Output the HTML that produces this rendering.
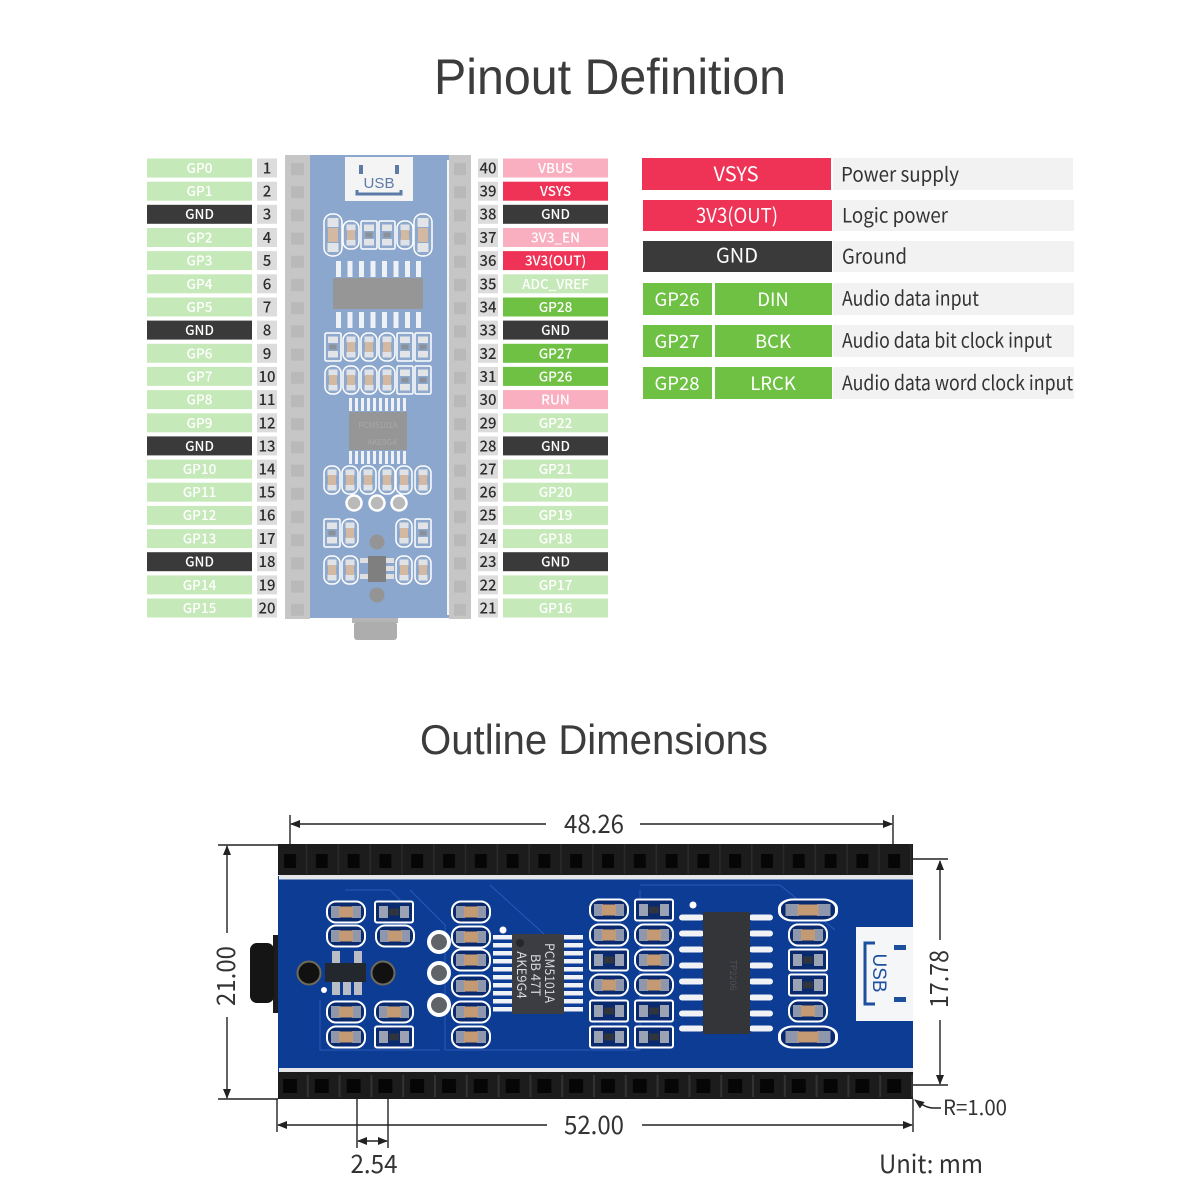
<!DOCTYPE html>
<html><head><meta charset="utf-8"><title>Pinout Definition</title>
<style>
html,body{margin:0;padding:0;background:#fff}
svg{display:block}
text{font-family:"Noto Sans CJK SC","Liberation Sans",sans-serif}
.t{font-family:"Liberation Sans",sans-serif;fill:#3c3c3c;font-size:50px}
.l{font-size:13.500px;text-anchor:middle;fill:#fff;font-weight:500}
.n{font-size:15px;text-anchor:middle;fill:#2c2c2c;font-weight:500}
.lg{fill:#c6e9b9}.bk{fill:#3a3a3a}.pk{fill:#f9afbf}.rd{fill:#ef3356}.gr{fill:#6fc143}.nb{fill:#dcdcdc}
.k{font-size:20px;text-anchor:middle;fill:#fff}
.g{font-size:18.500px;text-anchor:middle;fill:#fff}
.d{font-size:20px;fill:#333}
.m{font-family:"Noto Sans CJK SC",sans-serif;font-size:25px;fill:#333;text-anchor:middle}
.w{stroke:#222;stroke-width:1.4;fill:none}
</style></head>
<body>
<svg width="1200" height="1200" viewBox="0 0 1200 1200" xmlns="http://www.w3.org/2000/svg">
<defs>
<g id="cap">
<rect x="-19" y="-10.500" width="38" height="21" rx="9" fill="#0a2a70" stroke="#fff" stroke-width="2"/>
<rect x="-15" y="-6" width="9" height="12" fill="#8e97ac"/><rect x="6" y="-6" width="9" height="12" fill="#8e97ac"/>
<rect x="-7" y="-5.500" width="14" height="11" fill="#c39a74"/>
</g>
<g id="res">
<rect x="-19" y="-10.500" width="38" height="21" rx="2" fill="#0a2a70" stroke="#fff" stroke-width="2"/>
<rect x="-15" y="-6" width="9" height="12" fill="#9aa2b4"/><rect x="6" y="-6" width="9" height="12" fill="#9aa2b4"/>
<rect x="-5" y="-3.500" width="10" height="7" fill="#30343c"/>
</g>
<g id="vc">
<rect x="-8" y="-14" width="16" height="28" rx="7" fill="#8fa9cd" stroke="#fff" stroke-width="1.500"/>
<rect x="-4.500" y="-10.500" width="9" height="6" fill="#dfe2e7"/><rect x="-4.500" y="4.500" width="9" height="6" fill="#dfe2e7"/>
<rect x="-4" y="-5" width="8" height="10" fill="#d3b8a2"/>
</g>
<g id="vr">
<rect x="-8" y="-14" width="16" height="28" rx="1.500" fill="#8fa9cd" stroke="#fff" stroke-width="1.500"/>
<rect x="-5" y="-10.500" width="10" height="6.500" fill="#e2e4e8"/><rect x="-5" y="4" width="10" height="6.500" fill="#e2e4e8"/>
<rect x="-3.500" y="-2.500" width="7" height="5" fill="#8a8f98"/>
</g>
<g id="vl">
<rect x="-9" y="-21" width="18" height="42" rx="8" fill="#8fa9cd" stroke="#fff" stroke-width="1.500"/>
<rect x="-5.500" y="-17" width="11" height="9" fill="#e2e4e8"/><rect x="-5.500" y="8" width="11" height="9" fill="#e2e4e8"/>
<rect x="-5" y="-7" width="10" height="14" fill="#d3b8a2"/>
</g>
<pattern id="hv" x="285" y="157" width="25" height="23.200" patternUnits="userSpaceOnUse"><rect x="6" y="6" width="13" height="12" fill="#b9b9b9"/></pattern>
<pattern id="hv2" x="449" y="157" width="22" height="23.200" patternUnits="userSpaceOnUse"><rect x="5" y="6" width="12" height="12" fill="#b9b9b9"/></pattern>
<pattern id="hh" x="274" y="844" width="31.800" height="30" patternUnits="userSpaceOnUse"><rect x="10" y="10" width="12" height="14" fill="#060606"/><rect x="0" y="0" width="1.500" height="30" fill="#2b2b2b"/></pattern>
<pattern id="hb" x="274" y="1073" width="31.800" height="26" patternUnits="userSpaceOnUse"><rect x="9" y="6" width="14" height="14" fill="#060606"/><rect x="1" y="2" width="2" height="22" fill="#333"/></pattern>
<marker id="a" markerWidth="10" markerHeight="8" refX="9" refY="4" orient="auto-start-reverse" markerUnits="userSpaceOnUse"><path d="M0 0L10 4L0 8Z" fill="#222"/></marker>
</defs>

<text class="t" x="434" y="94" textLength="352" lengthAdjust="spacingAndGlyphs">Pinout Definition</text>
<text class="t" x="420" y="754" style="font-size:42px" textLength="348" lengthAdjust="spacingAndGlyphs">Outline Dimensions</text>

<!-- left labels -->
<rect class="lg" x="147" y="158.500" width="105" height="19"/><text class="l" x="199.500" y="173">GP0</text>
<rect class="lg" x="147" y="181.700" width="105" height="19"/><text class="l" x="199.500" y="196">GP1</text>
<rect class="bk" x="147" y="204.800" width="105" height="19"/><text class="l" x="199.500" y="219">GND</text>
<rect class="lg" x="147" y="228" width="105" height="19"/><text class="l" x="199.500" y="242.500">GP2</text>
<rect class="lg" x="147" y="251.100" width="105" height="19"/><text class="l" x="199.500" y="265.500">GP3</text>
<rect class="lg" x="147" y="274.300" width="105" height="19"/><text class="l" x="199.500" y="288.800">GP4</text>
<rect class="lg" x="147" y="297.500" width="105" height="19"/><text class="l" x="199.500" y="312">GP5</text>
<rect class="bk" x="147" y="320.600" width="105" height="19"/><text class="l" x="199.500" y="335">GND</text>
<rect class="lg" x="147" y="343.800" width="105" height="19"/><text class="l" x="199.500" y="358.300">GP6</text>
<rect class="lg" x="147" y="366.900" width="105" height="19"/><text class="l" x="199.500" y="381.400">GP7</text>
<rect class="lg" x="147" y="390.100" width="105" height="19"/><text class="l" x="199.500" y="404.600">GP8</text>
<rect class="lg" x="147" y="413.300" width="105" height="19"/><text class="l" x="199.500" y="427.800">GP9</text>
<rect class="bk" x="147" y="436.400" width="105" height="19"/><text class="l" x="199.500" y="451">GND</text>
<rect class="lg" x="147" y="459.600" width="105" height="19"/><text class="l" x="199.500" y="474">GP10</text>
<rect class="lg" x="147" y="482.700" width="105" height="19"/><text class="l" x="199.500" y="497">GP11</text>
<rect class="lg" x="147" y="505.900" width="105" height="19"/><text class="l" x="199.500" y="520">GP12</text>
<rect class="lg" x="147" y="529.100" width="105" height="19"/><text class="l" x="199.500" y="543.500">GP13</text>
<rect class="bk" x="147" y="552.200" width="105" height="19"/><text class="l" x="199.500" y="566.700">GND</text>
<rect class="lg" x="147" y="575.400" width="105" height="19"/><text class="l" x="199.500" y="590">GP14</text>
<rect class="lg" x="147" y="598.500" width="105" height="19"/><text class="l" x="199.500" y="613">GP15</text>

<!-- left numbers -->
<rect class="nb" x="257" y="158.500" width="20" height="19"/><text class="n" x="267" y="173.500">1</text>
<rect class="nb" x="257" y="181.700" width="20" height="19"/><text class="n" x="267" y="196.500">2</text>
<rect class="nb" x="257" y="204.800" width="20" height="19"/><text class="n" x="267" y="219.500">3</text>
<rect class="nb" x="257" y="228" width="20" height="19"/><text class="n" x="267" y="243">4</text>
<rect class="nb" x="257" y="251.100" width="20" height="19"/><text class="n" x="267" y="266">5</text>
<rect class="nb" x="257" y="274.300" width="20" height="19"/><text class="n" x="267" y="289.300">6</text>
<rect class="nb" x="257" y="297.500" width="20" height="19"/><text class="n" x="267" y="312.500">7</text>
<rect class="nb" x="257" y="320.600" width="20" height="19"/><text class="n" x="267" y="335.500">8</text>
<rect class="nb" x="257" y="343.800" width="20" height="19"/><text class="n" x="267" y="358.800">9</text>
<rect class="nb" x="257" y="366.900" width="20" height="19"/><text class="n" x="267" y="381.900" textLength="17" lengthAdjust="spacingAndGlyphs">10</text>
<rect class="nb" x="257" y="390.100" width="20" height="19"/><text class="n" x="267" y="405.100" textLength="17" lengthAdjust="spacingAndGlyphs">11</text>
<rect class="nb" x="257" y="413.300" width="20" height="19"/><text class="n" x="267" y="428.300" textLength="17" lengthAdjust="spacingAndGlyphs">12</text>
<rect class="nb" x="257" y="436.400" width="20" height="19"/><text class="n" x="267" y="451.500" textLength="17" lengthAdjust="spacingAndGlyphs">13</text>
<rect class="nb" x="257" y="459.600" width="20" height="19"/><text class="n" x="267" y="474.500" textLength="17" lengthAdjust="spacingAndGlyphs">14</text>
<rect class="nb" x="257" y="482.700" width="20" height="19"/><text class="n" x="267" y="497.500" textLength="17" lengthAdjust="spacingAndGlyphs">15</text>
<rect class="nb" x="257" y="505.900" width="20" height="19"/><text class="n" x="267" y="520.500" textLength="17" lengthAdjust="spacingAndGlyphs">16</text>
<rect class="nb" x="257" y="529.100" width="20" height="19"/><text class="n" x="267" y="544" textLength="17" lengthAdjust="spacingAndGlyphs">17</text>
<rect class="nb" x="257" y="552.200" width="20" height="19"/><text class="n" x="267" y="567.200" textLength="17" lengthAdjust="spacingAndGlyphs">18</text>
<rect class="nb" x="257" y="575.400" width="20" height="19"/><text class="n" x="267" y="590.500" textLength="17" lengthAdjust="spacingAndGlyphs">19</text>
<rect class="nb" x="257" y="598.500" width="20" height="19"/><text class="n" x="267" y="613.500" textLength="17" lengthAdjust="spacingAndGlyphs">20</text>

<!-- right numbers -->
<rect class="nb" x="478" y="158.500" width="20" height="19"/><text class="n" x="488" y="173.500" textLength="17" lengthAdjust="spacingAndGlyphs">40</text>
<rect class="nb" x="478" y="181.700" width="20" height="19"/><text class="n" x="488" y="196.500" textLength="17" lengthAdjust="spacingAndGlyphs">39</text>
<rect class="nb" x="478" y="204.800" width="20" height="19"/><text class="n" x="488" y="219.500" textLength="17" lengthAdjust="spacingAndGlyphs">38</text>
<rect class="nb" x="478" y="228" width="20" height="19"/><text class="n" x="488" y="243" textLength="17" lengthAdjust="spacingAndGlyphs">37</text>
<rect class="nb" x="478" y="251.100" width="20" height="19"/><text class="n" x="488" y="266" textLength="17" lengthAdjust="spacingAndGlyphs">36</text>
<rect class="nb" x="478" y="274.300" width="20" height="19"/><text class="n" x="488" y="289.300" textLength="17" lengthAdjust="spacingAndGlyphs">35</text>
<rect class="nb" x="478" y="297.500" width="20" height="19"/><text class="n" x="488" y="312.500" textLength="17" lengthAdjust="spacingAndGlyphs">34</text>
<rect class="nb" x="478" y="320.600" width="20" height="19"/><text class="n" x="488" y="335.500" textLength="17" lengthAdjust="spacingAndGlyphs">33</text>
<rect class="nb" x="478" y="343.800" width="20" height="19"/><text class="n" x="488" y="358.800" textLength="17" lengthAdjust="spacingAndGlyphs">32</text>
<rect class="nb" x="478" y="366.900" width="20" height="19"/><text class="n" x="488" y="381.900" textLength="17" lengthAdjust="spacingAndGlyphs">31</text>
<rect class="nb" x="478" y="390.100" width="20" height="19"/><text class="n" x="488" y="405.100" textLength="17" lengthAdjust="spacingAndGlyphs">30</text>
<rect class="nb" x="478" y="413.300" width="20" height="19"/><text class="n" x="488" y="428.300" textLength="17" lengthAdjust="spacingAndGlyphs">29</text>
<rect class="nb" x="478" y="436.400" width="20" height="19"/><text class="n" x="488" y="451.500" textLength="17" lengthAdjust="spacingAndGlyphs">28</text>
<rect class="nb" x="478" y="459.600" width="20" height="19"/><text class="n" x="488" y="474.500" textLength="17" lengthAdjust="spacingAndGlyphs">27</text>
<rect class="nb" x="478" y="482.700" width="20" height="19"/><text class="n" x="488" y="497.500" textLength="17" lengthAdjust="spacingAndGlyphs">26</text>
<rect class="nb" x="478" y="505.900" width="20" height="19"/><text class="n" x="488" y="520.500" textLength="17" lengthAdjust="spacingAndGlyphs">25</text>
<rect class="nb" x="478" y="529.100" width="20" height="19"/><text class="n" x="488" y="544" textLength="17" lengthAdjust="spacingAndGlyphs">24</text>
<rect class="nb" x="478" y="552.200" width="20" height="19"/><text class="n" x="488" y="567.200" textLength="17" lengthAdjust="spacingAndGlyphs">23</text>
<rect class="nb" x="478" y="575.400" width="20" height="19"/><text class="n" x="488" y="590.500" textLength="17" lengthAdjust="spacingAndGlyphs">22</text>
<rect class="nb" x="478" y="598.500" width="20" height="19"/><text class="n" x="488" y="613.500" textLength="17" lengthAdjust="spacingAndGlyphs">21</text>

<!-- right labels -->
<rect class="pk" x="503" y="158.500" width="105" height="19"/><text class="l" x="555.500" y="173">VBUS</text>
<rect class="rd" x="503" y="181.700" width="105" height="19"/><text class="l" x="555.500" y="196">VSYS</text>
<rect class="bk" x="503" y="204.800" width="105" height="19"/><text class="l" x="555.500" y="219">GND</text>
<rect class="pk" x="503" y="228" width="105" height="19"/><text class="l" x="555.500" y="242.500">3V3_EN</text>
<rect class="rd" x="503" y="251.100" width="105" height="19"/><text class="l" x="555.500" y="265.500">3V3(OUT)</text>
<rect class="lg" x="503" y="274.300" width="105" height="19"/><text class="l" x="555.500" y="288.800">ADC_VREF</text>
<rect class="gr" x="503" y="297.500" width="105" height="19"/><text class="l" x="555.500" y="312">GP28</text>
<rect class="bk" x="503" y="320.600" width="105" height="19"/><text class="l" x="555.500" y="335">GND</text>
<rect class="gr" x="503" y="343.800" width="105" height="19"/><text class="l" x="555.500" y="358.300">GP27</text>
<rect class="gr" x="503" y="366.900" width="105" height="19"/><text class="l" x="555.500" y="381.400">GP26</text>
<rect class="pk" x="503" y="390.100" width="105" height="19"/><text class="l" x="555.500" y="404.600">RUN</text>
<rect class="lg" x="503" y="413.300" width="105" height="19"/><text class="l" x="555.500" y="427.800">GP22</text>
<rect class="bk" x="503" y="436.400" width="105" height="19"/><text class="l" x="555.500" y="451">GND</text>
<rect class="lg" x="503" y="459.600" width="105" height="19"/><text class="l" x="555.500" y="474">GP21</text>
<rect class="lg" x="503" y="482.700" width="105" height="19"/><text class="l" x="555.500" y="497">GP20</text>
<rect class="lg" x="503" y="505.900" width="105" height="19"/><text class="l" x="555.500" y="520">GP19</text>
<rect class="lg" x="503" y="529.100" width="105" height="19"/><text class="l" x="555.500" y="543.500">GP18</text>
<rect class="bk" x="503" y="552.200" width="105" height="19"/><text class="l" x="555.500" y="566.700">GND</text>
<rect class="lg" x="503" y="575.400" width="105" height="19"/><text class="l" x="555.500" y="590">GP17</text>
<rect class="lg" x="503" y="598.500" width="105" height="19"/><text class="l" x="555.500" y="613">GP16</text>

<!-- faded board -->
<rect x="352" y="618" width="46" height="5" fill="#b5b5b5"/>
<rect x="354" y="622" width="43" height="18" rx="3" fill="#adadad"/>
<rect x="310" y="155" width="140" height="463" fill="#8ba7cd"/>
<rect x="447" y="160" width="3" height="455" fill="#f2f5fa"/>
<rect x="285" y="155" width="25" height="464" fill="#c6c6c6"/><rect x="285" y="155" width="25" height="464" fill="url(#hv)"/>
<rect x="449" y="155" width="22" height="464" fill="#c6c6c6"/><rect x="449" y="155" width="22" height="464" fill="url(#hv2)"/>
<rect x="345" y="157" width="68" height="44" fill="#f4f4f4"/>
<text x="379" y="188" text-anchor="middle" style="font-family:'Liberation Sans',sans-serif;font-size:15px;fill:#5c7ba8" textLength="31" lengthAdjust="spacingAndGlyphs">USB</text>
<path d="M357 190v4h44v-4" fill="none" stroke="#5c7ba8" stroke-width="3"/>
<rect x="359" y="165" width="4" height="9" fill="#5c7ba8"/><rect x="395" y="165" width="4" height="9" fill="#5c7ba8"/>
<use href="#vl" x="333" y="235"/><use href="#vc" x="351" y="235"/><use href="#vr" x="369" y="235"/><use href="#vr" x="387" y="235"/><use href="#vc" x="405" y="235"/><use href="#vl" x="423" y="235"/>
<use href="#vr" x="333" y="347"/><use href="#vc" x="351" y="347"/><use href="#vc" x="369" y="347"/><use href="#vc" x="387" y="347"/><use href="#vr" x="405" y="347"/><use href="#vr" x="423" y="347"/>
<use href="#vc" x="333" y="380"/><use href="#vc" x="351" y="380"/><use href="#vc" x="369" y="380"/><use href="#vc" x="387" y="380"/><use href="#vr" x="405" y="380"/><use href="#vr" x="423" y="380"/>
<use href="#vc" x="332" y="480"/><use href="#vc" x="350" y="480"/><use href="#vc" x="368" y="480"/><use href="#vc" x="387" y="480"/><use href="#vc" x="404" y="480"/><use href="#vc" x="423" y="480"/>
<use href="#vr" x="332" y="533"/><use href="#vc" x="350" y="533"/><use href="#vc" x="404" y="533"/><use href="#vr" x="423" y="533"/>
<use href="#vc" x="332" y="570"/><use href="#vc" x="350" y="570"/><use href="#vc" x="404" y="570"/><use href="#vc" x="423" y="570"/>
<g fill="#eef1f6">
<rect x="336" y="261" width="5" height="16"/><rect x="347.500" y="261" width="5" height="16"/><rect x="359" y="261" width="5" height="16"/><rect x="370.500" y="261" width="5" height="16"/><rect x="382" y="261" width="5" height="16"/><rect x="393.500" y="261" width="5" height="16"/><rect x="405" y="261" width="5" height="16"/><rect x="416" y="261" width="5" height="16"/>
<rect x="336" y="312" width="5" height="16"/><rect x="347.500" y="312" width="5" height="16"/><rect x="359" y="312" width="5" height="16"/><rect x="370.500" y="312" width="5" height="16"/><rect x="382" y="312" width="5" height="16"/><rect x="393.500" y="312" width="5" height="16"/><rect x="405" y="312" width="5" height="16"/><rect x="416" y="312" width="5" height="16"/>
<rect x="349" y="398" width="3" height="13"/><rect x="355" y="398" width="3" height="13"/><rect x="361" y="398" width="3" height="13"/><rect x="367" y="398" width="3" height="13"/><rect x="373" y="398" width="3" height="13"/><rect x="379" y="398" width="3" height="13"/><rect x="385" y="398" width="3" height="13"/><rect x="391" y="398" width="3" height="13"/><rect x="397" y="398" width="3" height="13"/><rect x="403" y="398" width="3" height="13"/>
<rect x="349" y="451" width="3" height="13"/><rect x="355" y="451" width="3" height="13"/><rect x="361" y="451" width="3" height="13"/><rect x="367" y="451" width="3" height="13"/><rect x="373" y="451" width="3" height="13"/><rect x="379" y="451" width="3" height="13"/><rect x="385" y="451" width="3" height="13"/><rect x="391" y="451" width="3" height="13"/><rect x="397" y="451" width="3" height="13"/><rect x="403" y="451" width="3" height="13"/>
</g>
<rect x="333" y="278" width="90" height="31" fill="#969696"/>
<rect x="349" y="412" width="58" height="38" fill="#969696"/>
<text x="378" y="428" text-anchor="middle" style="font-size:8px;fill:#a8a8a8">PCM5101A</text>
<text x="382" y="445" text-anchor="middle" style="font-size:8px;fill:#a8a8a8">AKE9G4</text>
<circle cx="354" cy="503" r="7.500" fill="#b9b9b9" stroke="#fff" stroke-width="2.500"/>
<circle cx="377" cy="503" r="7.500" fill="#b9b9b9" stroke="#fff" stroke-width="2.500"/>
<circle cx="399" cy="503" r="7.500" fill="#b9b9b9" stroke="#fff" stroke-width="2.500"/>
<circle cx="377" cy="542" r="7.500" fill="#949494"/><circle cx="377" cy="595" r="7.500" fill="#949494"/>
<rect x="368" y="556" width="18" height="26" fill="#7f7f7f"/>
<rect x="360" y="558" width="8" height="5" fill="#dfdfdf"/><rect x="360" y="574" width="8" height="5" fill="#dfdfdf"/><rect x="386" y="558" width="8" height="5" fill="#dfdfdf"/><rect x="386" y="566" width="8" height="5" fill="#dfdfdf"/><rect x="386" y="574" width="8" height="5" fill="#dfdfdf"/>

<!-- legend -->
<rect x="833" y="158" width="240" height="32" fill="#f2f2f2"/>
<rect x="833" y="200" width="241" height="31" fill="#f2f2f2"/>
<rect x="833" y="241" width="241" height="31" fill="#f2f2f2"/>
<rect x="833" y="283" width="241" height="32" fill="#f2f2f2"/>
<rect x="833" y="325" width="241" height="32" fill="#f2f2f2"/>
<rect x="833" y="367" width="241" height="32" fill="#f2f2f2"/>
<rect class="rd" x="642" y="158" width="189" height="32"/><text class="k" x="736" y="181">VSYS</text>
<rect class="rd" x="643" y="200" width="189" height="31"/><text class="k" x="737" y="222.500" textLength="82" lengthAdjust="spacingAndGlyphs">3V3(OUT)</text>
<rect class="bk" x="643" y="241" width="189" height="31"/><text class="k" x="737" y="262.500">GND</text>
<rect class="gr" x="643" y="283" width="69" height="32"/><text class="g" x="677" y="306">GP26</text>
<rect class="gr" x="715" y="283" width="117" height="32"/><text class="g" x="773" y="306">DIN</text>
<rect class="gr" x="643" y="325" width="69" height="32"/><text class="g" x="677" y="348">GP27</text>
<rect class="gr" x="715" y="325" width="117" height="32"/><text class="g" x="773" y="348">BCK</text>
<rect class="gr" x="643" y="367" width="69" height="32"/><text class="g" x="677" y="390">GP28</text>
<rect class="gr" x="715" y="367" width="117" height="32"/><text class="g" x="773" y="390">LRCK</text>
<text class="d" x="841" y="181.500" textLength="118" lengthAdjust="spacingAndGlyphs">Power supply</text>
<text class="d" x="842" y="222.500" textLength="106" lengthAdjust="spacingAndGlyphs">Logic power</text>
<text class="d" x="842" y="263.500" textLength="65" lengthAdjust="spacingAndGlyphs">Ground</text>
<text class="d" x="842" y="305.500" textLength="137" lengthAdjust="spacingAndGlyphs">Audio data input</text>
<text class="d" x="842" y="347.500" textLength="210" lengthAdjust="spacingAndGlyphs">Audio data bit clock input</text>
<text class="d" x="842" y="390" textLength="231" lengthAdjust="spacingAndGlyphs">Audio data word clock input</text>

<!-- real board -->
<rect x="273" y="935" width="6" height="78" fill="#1c1c1c"/>
<rect x="250" y="943" width="24" height="60" rx="7" fill="#151515"/>
<rect x="278" y="876" width="635" height="197" fill="#0c3c94"/>
<rect x="279" y="875" width="634" height="4.500" fill="#e4e6ea"/>
<rect x="279" y="1068" width="634" height="4" fill="#e4e6ea"/>
<rect x="278" y="844" width="635" height="31" fill="#1c1c1c"/><rect x="278" y="844" width="635" height="30" fill="url(#hh)"/>
<rect x="278" y="1072" width="635" height="27" fill="#1c1c1c"/><rect x="278" y="1073" width="635" height="26" fill="url(#hb)"/>

<g fill="none" stroke="#2a5ab5" stroke-width="1">
<path d="M345 890H390L400 900V930"/><path d="M410 890L445 925V1050H640"/><path d="M490 885L545 935"/><path d="M640 890V1050"/><path d="M640 885H780L835 930"/><path d="M320 1000V1050H440"/>
</g>
<use href="#cap" x="346" y="912"/><use href="#cap" x="346" y="936"/><use href="#cap" x="346" y="1012"/><use href="#cap" x="346" y="1037"/>
<use href="#res" x="394" y="912"/><use href="#cap" x="395" y="936"/><use href="#cap" x="394" y="1012"/><use href="#res" x="394" y="1037"/>
<use href="#cap" x="471" y="912"/><use href="#cap" x="471" y="937"/><use href="#cap" x="471" y="960"/><use href="#cap" x="471" y="986"/><use href="#cap" x="471" y="1012"/><use href="#cap" x="471" y="1037"/>
<use href="#cap" x="609" y="910"/><use href="#cap" x="609" y="935"/><use href="#res" x="609" y="960"/><use href="#cap" x="609" y="985"/><use href="#res" x="609" y="1011"/><use href="#res" x="609" y="1037"/>
<use href="#res" x="654" y="910"/><use href="#cap" x="654" y="935"/><use href="#cap" x="654" y="960"/><use href="#cap" x="654" y="985"/><use href="#res" x="654" y="1011"/><use href="#res" x="654" y="1037"/>
<use href="#cap" transform="translate(808 910) scale(1.500 1)"/><use href="#cap" x="808" y="935"/><use href="#res" x="808" y="960"/><use href="#res" x="808" y="985"/><use href="#cap" x="808" y="1011"/><use href="#cap" transform="translate(808 1037) scale(1.500 1)"/>

<!-- holes -->
<circle cx="309" cy="973" r="11.500" fill="#111" stroke="#6f6a5a" stroke-width="2"/>
<circle cx="383" cy="973" r="11.500" fill="#111" stroke="#6f6a5a" stroke-width="2"/>
<circle cx="439" cy="942" r="10" fill="#606468" stroke="#fff" stroke-width="4"/>
<circle cx="439" cy="973" r="10" fill="#606468" stroke="#fff" stroke-width="4"/>
<circle cx="439" cy="1005" r="10" fill="#606468" stroke="#fff" stroke-width="4"/>
<!-- SOT -->
<g fill="#b9bec6"><rect x="332" y="951" width="8" height="12"/><rect x="354" y="951" width="8" height="12"/><rect x="332" y="982" width="8" height="13"/><rect x="343" y="982" width="8" height="13"/><rect x="354" y="982" width="8" height="13"/></g>
<rect x="325" y="963" width="41" height="19" fill="#23272e"/>
<circle cx="324" cy="990" r="3" fill="#fff"/>

<!-- PCM chip -->
<g fill="#eef1f5">
<rect x="493" y="935" width="20" height="4.500"/><rect x="493" y="943" width="20" height="4.500"/><rect x="493" y="951" width="20" height="4.500"/><rect x="493" y="959" width="20" height="4.500"/><rect x="493" y="967" width="20" height="4.500"/><rect x="493" y="975" width="20" height="4.500"/><rect x="493" y="983" width="20" height="4.500"/><rect x="493" y="991" width="20" height="4.500"/><rect x="493" y="999" width="20" height="4.500"/><rect x="493" y="1007" width="20" height="4.500"/>
<rect x="563" y="935" width="20" height="4.500"/><rect x="563" y="943" width="20" height="4.500"/><rect x="563" y="951" width="20" height="4.500"/><rect x="563" y="959" width="20" height="4.500"/><rect x="563" y="967" width="20" height="4.500"/><rect x="563" y="975" width="20" height="4.500"/><rect x="563" y="983" width="20" height="4.500"/><rect x="563" y="991" width="20" height="4.500"/><rect x="563" y="999" width="20" height="4.500"/><rect x="563" y="1007" width="20" height="4.500"/>
</g>
<circle cx="503" cy="930" r="3.500" fill="#fff"/>
<rect x="512" y="934" width="52" height="80" fill="#3b3d42"/>
<circle cx="520" cy="943" r="4" fill="#24262a"/>
<text transform="translate(545 973) rotate(90)" style="font-size:13px;fill:#d8dadd;text-anchor:middle" textLength="60" lengthAdjust="spacingAndGlyphs">PCM5101A</text>
<text transform="translate(531 975) rotate(90)" style="font-size:13px;fill:#d8dadd;text-anchor:middle">BB 47T</text>
<text transform="translate(517 975) rotate(90)" style="font-size:13px;fill:#d8dadd;text-anchor:middle">AKE9G4</text>

<!-- big chip -->
<g fill="#f0f2f5">
<rect x="679" y="914.500" width="25" height="6" rx="3"/><rect x="679" y="930.500" width="25" height="6" rx="3"/><rect x="679" y="946.500" width="25" height="6" rx="3"/><rect x="679" y="962.500" width="25" height="6" rx="3"/><rect x="679" y="978.500" width="25" height="6" rx="3"/><rect x="679" y="994.500" width="25" height="6" rx="3"/><rect x="679" y="1010.500" width="25" height="6" rx="3"/><rect x="679" y="1025.500" width="25" height="6" rx="3"/>
<rect x="749" y="914.500" width="24" height="6" rx="3"/><rect x="749" y="930.500" width="24" height="6" rx="3"/><rect x="749" y="946.500" width="24" height="6" rx="3"/><rect x="749" y="962.500" width="24" height="6" rx="3"/><rect x="749" y="978.500" width="24" height="6" rx="3"/><rect x="749" y="994.500" width="24" height="6" rx="3"/><rect x="749" y="1010.500" width="24" height="6" rx="3"/><rect x="749" y="1025.500" width="24" height="6" rx="3"/>
</g>
<circle cx="693" cy="905" r="3.500" fill="#fff"/>
<rect x="703" y="912" width="47" height="122" fill="#333539"/>
<text transform="translate(730 975) rotate(90)" style="font-size:9px;fill:#4c4f54;text-anchor:middle">TP2206</text>

<!-- USB -->
<rect x="856" y="927" width="57" height="94" fill="#f5f6f8"/>
<path d="M875 943H865V1004H875" fill="none" stroke="#1d4f9f" stroke-width="3"/>
<rect x="894" y="945" width="12" height="5" fill="#1d4f9f"/><rect x="894" y="997" width="12" height="5" fill="#1d4f9f"/>
<text transform="translate(873 973) rotate(90)" style="font-family:'Liberation Sans',sans-serif;font-size:19px;fill:#1d4f9f;text-anchor:middle">USB</text>

<!-- dimensions -->
<path class="w" d="M290 815V844M893 815V844M277 1099V1132M913 1099V1132M218 845H278M218 1099H278M913 859H948M913 1085H948M357 1099V1148M388 1099V1148"/>
<path class="w" d="M546 824H291" marker-end="url(#a)"/><path class="w" d="M640 824H892" marker-end="url(#a)"/>
<path class="w" d="M547 1125H278" marker-end="url(#a)"/><path class="w" d="M642 1125H912" marker-end="url(#a)"/>
<path class="w" d="M227 933V846" marker-end="url(#a)"/><path class="w" d="M227 1017V1098" marker-end="url(#a)"/>
<path class="w" d="M940 940V861" marker-end="url(#a)"/><path class="w" d="M940 1020V1084" marker-end="url(#a)"/>
<path class="w" d="M358 1141H387" marker-start="url(#a)" marker-end="url(#a)"/>
<path class="w" d="M941 1108H933Q926 1108 915 1100" marker-end="url(#a)"/>
<text class="m" x="594" y="833" textLength="60" lengthAdjust="spacingAndGlyphs">48.26</text>
<text class="m" x="594" y="1134" textLength="60" lengthAdjust="spacingAndGlyphs">52.00</text>
<text class="m" x="374" y="1173" textLength="47" lengthAdjust="spacingAndGlyphs">2.54</text>
<text class="m" transform="translate(235 976) rotate(-90)" textLength="60" lengthAdjust="spacingAndGlyphs">21.00</text>
<text class="m" transform="translate(948 979) rotate(-90)" textLength="58" lengthAdjust="spacingAndGlyphs">17.78</text>
<text x="943" y="1115" style="font-size:21px;fill:#333" textLength="64" lengthAdjust="spacingAndGlyphs">R=1.00</text>
<text x="879" y="1173" style="font-size:25px;fill:#333" textLength="104" lengthAdjust="spacingAndGlyphs">Unit: mm</text>
</svg>
</body></html>
